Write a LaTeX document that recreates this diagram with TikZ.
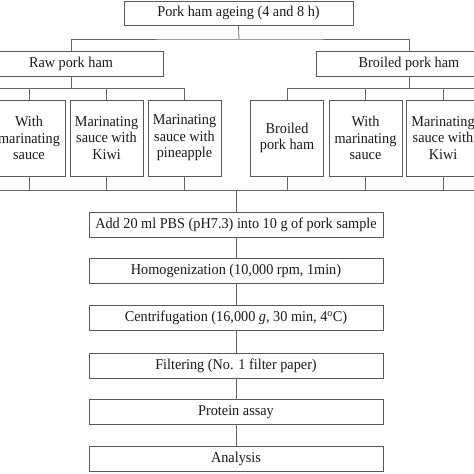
\documentclass[tikz,border=0pt]{standalone}
\usepackage{fontspec}
\setmainfont{Liberation Serif}[FakeStretch=0.95]
\usetikzlibrary{positioning}

\begin{document}
\begin{tikzpicture}[x=1pt,y=-1pt,
  font=\fontsize{15}{16.6}\selectfont,
  box/.style={draw=black!65,line width=0.8pt,text=black!90,inner sep=0pt,minimum height=25pt},
  leaf/.style={box,minimum width=73pt,minimum height=76pt,align=center},
  stepbox/.style={box,minimum width=294pt},
  link/.style={draw=black!60,line width=0.8pt}]
\useasboundingbox (0,0) rectangle (474,474);
\clip (0,0) rectangle (474,474);
% treatments
\node[box,minimum width=229pt,minimum height=24pt] (ageing) at (238.5,13) {Pork ham ageing (4 and 8 h)};
\node[box,minimum width=184pt] (raw) at (71,63.5) {Raw pork ham};
\node[box,minimum width=186pt] (broiled) at (409,64) {Broiled pork ham};
\node[leaf] (rawsauce) at (29,138) {With\\marinating\\sauce};
\node[leaf] (rawkiwi) at (106.5,138) {Marinating\\sauce with\\Kiwi};
\node[leaf] (rawpine) at (184.5,138) {Marinating\\sauce with\\pineapple};
\node[leaf] (brplain) at (287,138) {Broiled\\pork ham};
\node[leaf] (brsauce) at (365.5,138) {With\\marinating\\sauce};
\node[leaf] (brkiwi) at (443,138) {Marinating\\sauce with\\Kiwi};
% extraction steps
\node[stepbox] (pbs) at (236,224.5) {Add 20 ml PBS (pH7.3) into 10 g of pork sample};
\node[stepbox] (homog) at (236,270.5) {Homogenization (10,000 rpm, 1min)};
\node[stepbox] (centri) at (236,318) {Centrifugation (16,000 \textit{g}, 30 min, 4\textsuperscript{o}C)};
\node[stepbox] (filter) at (236,365.5) {Filtering (No. 1 filter paper)};
\node[stepbox] (assay) at (236,412) {Protein assay};
\node[stepbox] (analysis) at (236,458.5) {Analysis};

\coordinate (split) at (239,39);
\coordinate (rawbus) at (71,88);
\coordinate (brbus) at (409,88);
\coordinate (rawend) at (-60,88);
\coordinate (brend) at (540,88);
\coordinate (merge) at (236,190);
\coordinate (mergeL) at (-60,190);
\coordinate (mergeR) at (540,190);

\path[link] (ageing.south) -- (split);
\path[link] (raw.north) |- (split) -| (broiled.north);
\path[link] (raw.south) -- (rawbus);
\path[link] (broiled.south) -- (brbus);
\path[link] (rawend) -- (rawpine.north |- rawbus);
\path[link] (brplain.north |- brbus) -- (brend);
\foreach \n in {rawsauce,rawkiwi,rawpine}
  \path[link] (\n.north) -- (\n.north |- rawbus);
\foreach \n in {brplain,brsauce,brkiwi}
  \path[link] (\n.north) -- (\n.north |- brbus);
\foreach \n in {rawsauce,rawkiwi,rawpine,brplain,brsauce,brkiwi}
  \path[link] (\n.south) -- (\n.south |- merge);
\path[link] (mergeL) -- (mergeR);
\path[link] (merge) -- (pbs.north);
\path[link] (pbs) -- (homog);
\path[link] (homog) -- (centri);
\path[link] (centri) -- (filter);
\path[link] (filter) -- (assay);
\path[link] (assay) -- (analysis);
\end{tikzpicture}
\end{document}
